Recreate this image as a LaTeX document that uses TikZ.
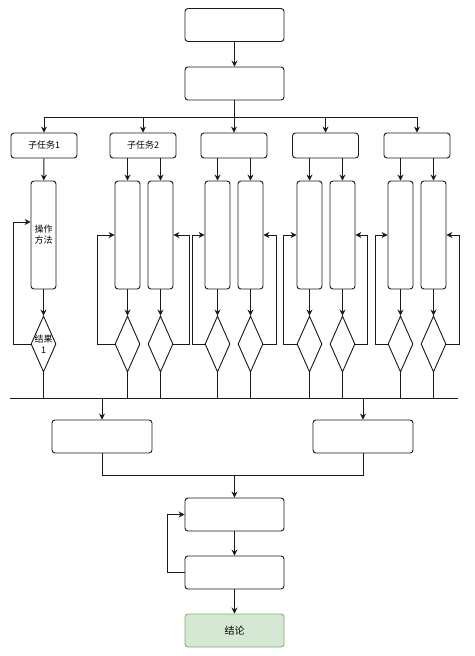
\documentclass[tikz,border=0pt]{standalone}
\usepackage{fontspec}
\setmainfont{Noto Sans CJK SC}
\usetikzlibrary{shapes.geometric,arrows.meta}
\definecolor{gfill}{HTML}{D5E8D4}
\definecolor{gline}{HTML}{82B366}
\definecolor{ink}{HTML}{1A1A1A}
\begin{document}
\begin{tikzpicture}[x=1pt,y=-1pt,
 box/.style={draw=ink, rounded corners=3pt, line width=0.9pt, inner sep=0pt, minimum width=99pt, minimum height=33pt, font=\fontsize{9}{11}\selectfont, align=center},
 sub/.style={box, minimum width=66pt, minimum height=25pt},
 tall/.style={box, minimum width=25pt, minimum height=108pt},
 dia/.style={draw=ink, diamond, line width=0.9pt, inner sep=0pt, minimum width=25pt, minimum height=56pt},
 final/.style={box, fill=gfill, draw=gline, font=\fontsize{10}{12}\selectfont},
 ln/.style={draw=ink, line width=0.9pt},
 arr/.style={ln, -{Stealth[length=6pt,width=6pt]}}
]
\useasboundingbox (0,0) rectangle (474,656);
% top
\node[box] (top) at (234.5,25) {};
\node[box] (second) at (234.5,83.5) {};
\draw[arr] (top) -- (second);
% subtasks
\node[sub] (s1) at (44,145.5) {子任务1};
\node[sub] (s2) at (143,145.5) {子任务2};
\node[sub] (s3) at (234,145.5) {};
\node[sub] (s4) at (325.5,145.5) {};
\node[sub] (s5) at (417,145.5) {};
\coordinate (b1) at (234.5,117);
\draw[ln] (second) -- (b1);
\draw[ln] (s1 |- b1) -- (s5 |- b1);
\foreach \s in {s1,s2,s3,s4,s5}{\draw[arr] (\s |- b1) -- (\s);}
% tall boxes
\node[tall] (t1) at (43.5,235) {操作\\方法};
\node[tall] (t2a) at (127.5,235) {};
\node[tall] (t2b) at (160.5,235) {};
\node[tall] (t3a) at (217.5,235) {};
\node[tall] (t3b) at (250.5,235) {};
\node[tall] (t4a) at (309.5,235) {};
\node[tall] (t4b) at (342.5,235) {};
\node[tall] (t5a) at (400.5,235) {};
\node[tall] (t5b) at (433.5,235) {};
\draw[arr] (s1) -- (t1);
\draw[arr] (t2a |- s2.south) -- (t2a);
\draw[arr] (t2b |- s2.south) -- (t2b);
\draw[arr] (t3a |- s3.south) -- (t3a);
\draw[arr] (t3b |- s3.south) -- (t3b);
\draw[arr] (t4a |- s4.south) -- (t4a);
\draw[arr] (t4b |- s4.south) -- (t4b);
\draw[arr] (t5a |- s5.south) -- (t5a);
\draw[arr] (t5b |- s5.south) -- (t5b);
% diamonds
\node[dia, label={[font=\fontsize{9}{11}\selectfont, align=center]center:结果\\1}] (d1) at (43.5,344) {};
\node[dia] (d2a) at (127.5,344) {};
\node[dia] (d2b) at (160.5,344) {};
\node[dia] (d3a) at (217.5,344) {};
\node[dia] (d3b) at (250.5,344) {};
\node[dia] (d4a) at (309.5,344) {};
\node[dia] (d4b) at (342.5,344) {};
\node[dia] (d5a) at (400.5,344) {};
\node[dia] (d5b) at (433.5,344) {};
\foreach \n in {1,2a,2b,3a,3b,4a,4b,5a,5b}{\draw[arr] (t\n) -- (d\n);}
% feedback loops
\draw[arr] (d1.west) -- ++(-17,0) |- ([yshift=13pt]t1.west);
\draw[arr] (d2a.west) -- ++(-17,0) |- (t2a.west);
\draw[arr] (d2b.east) -- ++(16,0) |- (t2b.east);
\draw[arr] (d3a.west) -- ++(-12,0) |- (t3a.west);
\draw[arr] (d3b.east) -- ++(13,0) |- (t3b.east);
\draw[arr] (d4a.west) -- ++(-13,0) |- (t4a.west);
\draw[arr] (d4b.east) -- ++(12,0) |- (t4b.east);
\draw[arr] (d5a.west) -- ++(-12,0) |- (t5a.west);
\draw[arr] (d5b.east) -- ++(13,0) |- (t5b.east);
% bottom bus
\coordinate (bl) at (10,398);
\coordinate (br) at (458,398);
\draw[ln] (bl) -- (br);
\foreach \n in {1,2a,2b,3a,3b,4a,4b,5a,5b}{\draw[ln] (d\n.south) -- (d\n |- bl);}
% merge boxes
\node[box, minimum width=100pt] (m1) at (102,436.5) {};
\node[box, minimum width=100pt] (m2) at (363,436.5) {};
\draw[arr] (m1 |- bl) -- (m1);
\draw[arr] (m2 |- bl) -- (m2);
\coordinate (j) at (234.5,475);
\draw[ln] (m1.south) -- (m1.south |- j) -- (m2.south |- j) -- (m2.south);
\node[box] (n1) at (234.5,514.5) {};
\node[box] (n2) at (234.5,572.5) {};
\node[final] (fin) at (234.5,630.5) {结论};
\draw[arr] (j) -- (n1);
\draw[arr] (n1) -- (n2);
\draw[arr] (n2.west) -- ++(-17,0) |- (n1.west);
\draw[arr] (n2) -- (fin);
\end{tikzpicture}
\end{document}
